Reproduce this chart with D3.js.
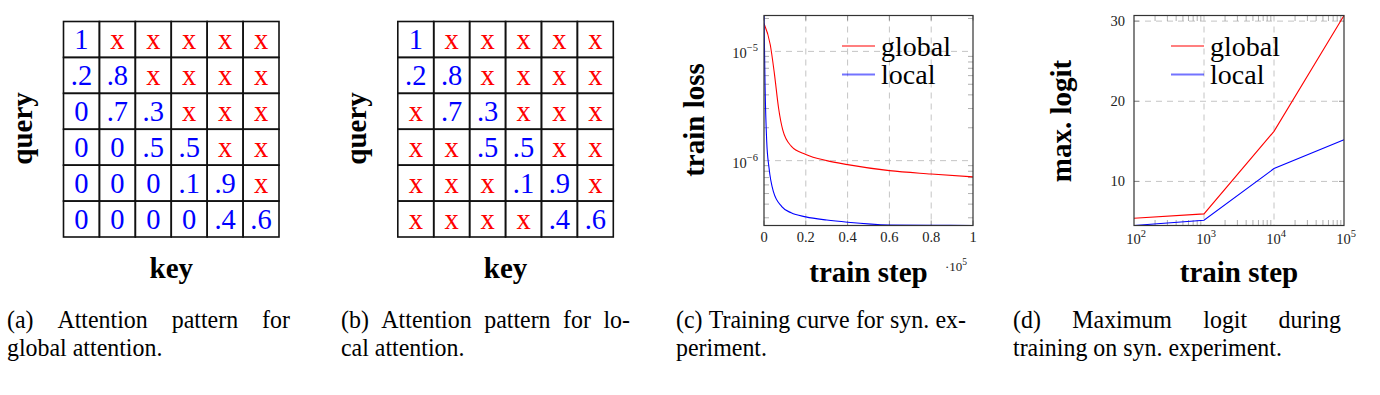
<!DOCTYPE html>
<html lang="en">
<head>
<meta charset="UTF-8">
<title>attention figure</title>
<script src="https://cdnjs.cloudflare.com/ajax/libs/d3/7.8.5/d3.min.js"></script>
<style>
    body { margin: 0; background: #fff; }
    svg { display: block; }
    text { font-family: "Liberation Serif", "Times New Roman", serif; fill: #000; }
    .label { font-size: 29px; font-weight: bold; }
    .cell { font-size: 28.5px; }
    .tick { font-size: 14.5px; fill: #222; }
    .legend { font-size: 28px; }
    .caption { font-size: 26px; }
</style>
</head>
<body>
<svg width="1380" height="395"></svg>
<script>
    // attention patterns, row = query, column = key
    var globalPattern = [
        ['1', 'x', 'x', 'x', 'x', 'x'],
        ['.2', '.8', 'x', 'x', 'x', 'x'],
        ['0', '.7', '.3', 'x', 'x', 'x'],
        ['0', '0', '.5', '.5', 'x', 'x'],
        ['0', '0', '0', '.1', '.9', 'x'],
        ['0', '0', '0', '0', '.4', '.6']
    ];
    var localPattern = [
        ['1', 'x', 'x', 'x', 'x', 'x'],
        ['.2', '.8', 'x', 'x', 'x', 'x'],
        ['x', '.7', '.3', 'x', 'x', 'x'],
        ['x', 'x', '.5', '.5', 'x', 'x'],
        ['x', 'x', 'x', '.1', '.9', 'x'],
        ['x', 'x', 'x', 'x', '.4', '.6']
    ];

    // (c) training loss
    var lossGlobalSteps = [0, 3000, 5000, 7000, 9000, 13000, 20000, 30000, 40000, 60000, 80000, 100000];
    var lossGlobal = [1.8e-5, 1.15e-5, 6.2e-6, 3.0e-6, 1.9e-6, 1.36e-6, 1.14e-6, 1.0e-6, 9.2e-7, 8.1e-7, 7.55e-7, 7.1e-7];
    var lossLocalSteps = [0, 500, 1300, 2400, 4500, 8500, 13000, 20000, 30000, 40000, 60000, 80000, 100000];
    var lossLocal = [2.13e-5, 4.9e-6, 1.5e-6, 8.6e-7, 5.2e-7, 3.8e-7, 3.33e-7, 3.06e-7, 2.86e-7, 2.73e-7, 2.58e-7, 2.56e-7, 2.55e-7];
    var lossXTicks = [0, 20000, 40000, 60000, 80000, 100000];
    var lossXLabels = ['0', '0.2', '0.4', '0.6', '0.8', '1'];
    var lossYTicks = [1e-5, 1e-6];
    var lossYExp = ['\u22125', '\u22126'];

    // (d) max logit
    var logitSteps = [100, 1000, 10000, 100000];
    var logitGlobal = [5.4, 5.95, 16.25, 30.7];
    var logitLocal = [4.5, 5.15, 11.6, 15.2];
    var logitXTicks = [100, 1000, 10000, 100000];
    var logitXExp = ['2', '3', '4', '5'];
    var logitYTicks = [10, 20, 30];

    var seriesNames = ['global', 'local'];
    var captions = [
        ['(a) Attention pattern for', 'global attention.'],
        ['(b) Attention pattern for lo-', 'cal attention.'],
        ['(c) Training curve for syn. ex-', 'periment.'],
        ['(d) Maximum logit during', 'training on syn. experiment.']
    ];

    var svg = d3.select('svg');
    var RED = '#ff0000', BLUE = '#0000ff';

    function drawPattern(x0, y0, data, queryX) {
        var g = svg.append('g');
        var band = d3.scaleBand().domain(d3.range(6)).range([0, 215.5]);
        var rows = g.selectAll('g.row').data(data).enter().append('g')
            .attr('transform', function (d, i) { return 'translate(' + x0 + ',' + (y0 + band(i)) + ')'; });
        rows.selectAll('rect').data(function (d) { return d; }).enter().append('rect')
            .attr('x', function (d, j) { return band(j); })
            .attr('width', band.bandwidth())
            .attr('height', band.bandwidth())
            .attr('fill', 'none')
            .attr('stroke', '#111')
            .attr('stroke-width', 1.6);
        rows.selectAll('text').data(function (d) { return d; }).enter().append('text')
            .attr('class', 'cell')
            .attr('x', function (d, j) { return band(j) + band.bandwidth() / 2; })
            .attr('y', 27.8)
            .attr('text-anchor', 'middle')
            .style('fill', function (d) { return d === 'x' ? RED : BLUE; })
            .text(function (d) { return d; });
        g.append('text').attr('class', 'label')
            .attr('text-anchor', 'middle')
            .attr('transform', 'translate(' + queryX + ',128.5) rotate(-90)')
            .text('query');
        g.append('text').attr('class', 'label')
            .attr('text-anchor', 'middle')
            .attr('x', x0 + 107.75).attr('y', 278)
            .text('key');
    }

    drawPattern(63.5, 21.5, globalPattern, 32);
    drawPattern(397.8, 21.5, localPattern, 366);

    function dashedGrid(g, lines) {
        g.selectAll(null).data(lines).enter().append('line')
            .attr('x1', function (d) { return d[0]; }).attr('y1', function (d) { return d[1]; })
            .attr('x2', function (d) { return d[2]; }).attr('y2', function (d) { return d[3]; })
            .attr('stroke', '#c4c4c4').attr('stroke-width', 1)
            .attr('stroke-dasharray', '6,5');
    }

    function legend(g, x, y) {
        var colors = [RED, BLUE];
        seriesNames.forEach(function (name, i) {
            var by = y + i * 28.5;
            g.append('line')
                .attr('x1', x).attr('x2', x + 33)
                .attr('y1', by - 9.5).attr('y2', by - 9.5)
                .attr('stroke', colors[i])
                .attr('stroke-width', i === 0 ? 1.1 : 1.8)
                .attr('stroke-opacity', i === 0 ? 1 : 0.55);
            g.append('text').attr('class', 'legend')
                .attr('x', x + 39).attr('y', by)
                .text(name);
        });
    }

    // ---------- (c) training curve ----------
    (function () {
        var g = svg.append('g');
        var x = d3.scaleLinear().domain([0, 100000]).range([764, 973]);
        var y = d3.scaleLog().domain([2.55e-7, 2.13e-5]).range([225.5, 15.5]);

        var grid = lossXTicks.slice(1, -1).map(function (v) { return [x(v), 15.5, x(v), 225.5]; })
            .concat(lossYTicks.map(function (v) { return [764, y(v), 973, y(v)]; }));
        dashedGrid(g, grid);

        var minor = y.ticks().filter(function (v) {
            var l = Math.log10(v);
            return Math.abs(l - Math.round(l)) > 1e-6 && v >= y.domain()[0] && v <= y.domain()[1];
        });
        g.selectAll(null).data(minor).enter().append('path')
            .attr('d', function (v) { return 'M764,' + y(v) + 'h5M973,' + y(v) + 'h-5'; })
            .attr('stroke', '#9a9a9a').attr('stroke-width', 0.8);
        g.selectAll(null).data(lossXTicks).enter().append('path')
            .attr('d', function (v) { return 'M' + x(v) + ',225.5v-5M' + x(v) + ',15.5v5'; })
            .attr('stroke', '#777').attr('stroke-width', 0.8);

        g.append('defs').append('clipPath').attr('id', 'clipc')
            .append('rect').attr('x', 764).attr('y', 15.5).attr('width', 209).attr('height', 210);
        var line = d3.line().curve(d3.curveMonotoneX)
            .x(function (d) { return x(d[0]); })
            .y(function (d) { return y(d[1]); });
        g.append('path').attr('clip-path', 'url(#clipc)')
            .datum(d3.zip(lossGlobalSteps, lossGlobal))
            .attr('d', line).attr('fill', 'none').attr('stroke', RED).attr('stroke-width', 1.1);
        g.append('path').attr('clip-path', 'url(#clipc)')
            .datum(d3.zip(lossLocalSteps, lossLocal))
            .attr('d', line).attr('fill', 'none').attr('stroke', BLUE).attr('stroke-width', 1.1);

        g.append('rect').attr('x', 764).attr('y', 15.5).attr('width', 209).attr('height', 210)
            .attr('fill', 'none').attr('stroke', '#333').attr('stroke-width', 1.2);

        g.selectAll(null).data(lossXTicks).enter().append('text')
            .attr('class', 'tick').attr('text-anchor', 'middle')
            .attr('x', function (v) { return x(v); }).attr('y', 242)
            .text(function (v, i) { return lossXLabels[i]; });
        var yl = g.selectAll(null).data(lossYTicks).enter().append('text')
            .attr('class', 'tick').attr('text-anchor', 'end')
            .attr('x', 758).attr('y', function (v) { return y(v) + 7; });
        yl.append('tspan').text('10');
        yl.append('tspan').attr('dy', -7).style('font-size', '10.5px')
            .text(function (v, i) { return lossYExp[i]; });

        var sc = g.append('text').attr('class', 'tick').attr('x', 945).attr('y', 271).style('font-size', '13px');
        sc.append('tspan').text('\u00b710');
        sc.append('tspan').attr('dy', -6).style('font-size', '9.5px').text('5');

        g.append('text').attr('class', 'label').attr('text-anchor', 'middle')
            .attr('transform', 'translate(704,120) rotate(-90)').text('train loss');
        g.append('text').attr('class', 'label').attr('text-anchor', 'middle')
            .attr('x', 868.5).attr('y', 282).text('train step');

        legend(g, 842, 55.5);
    })();

    // ---------- (d) max logit ----------
    (function () {
        var g = svg.append('g');
        var x = d3.scaleLog().domain([100, 100000]).range([1134, 1344]);
        var y = d3.scaleLinear().domain([4.5, 30.7]).range([225.5, 15.5]);

        var grid = logitXTicks.slice(1, -1).map(function (v) { return [x(v), 15.5, x(v), 225.5]; })
            .concat(logitYTicks.map(function (v) { return [1134, y(v), 1344, y(v)]; }));
        dashedGrid(g, grid);

        var minor = x.ticks().filter(function (v) {
            var l = Math.log10(v);
            return Math.abs(l - Math.round(l)) > 1e-6;
        });
        g.selectAll(null).data(minor).enter().append('path')
            .attr('d', function (v) { return 'M' + x(v) + ',225.5v-5.5M' + x(v) + ',15.5v5.5'; })
            .attr('stroke', '#9a9a9a').attr('stroke-width', 0.8);
        g.selectAll(null).data(logitYTicks).enter().append('path')
            .attr('d', function (v) { return 'M1134,' + y(v) + 'h5M1344,' + y(v) + 'h-5'; })
            .attr('stroke', '#777').attr('stroke-width', 0.8);

        var line = d3.line()
            .x(function (d) { return x(d[0]); })
            .y(function (d) { return y(d[1]); });
        g.append('path').datum(d3.zip(logitSteps, logitGlobal))
            .attr('d', line).attr('fill', 'none').attr('stroke', RED).attr('stroke-width', 1.1);
        g.append('path').datum(d3.zip(logitSteps, logitLocal))
            .attr('d', line).attr('fill', 'none').attr('stroke', BLUE).attr('stroke-width', 1.1);

        g.append('rect').attr('x', 1134).attr('y', 15.5).attr('width', 210).attr('height', 210)
            .attr('fill', 'none').attr('stroke', '#333').attr('stroke-width', 1.2);

        var xl = g.selectAll(null).data(logitXTicks).enter().append('text')
            .attr('class', 'tick').attr('text-anchor', 'middle')
            .attr('x', function (v) { return x(v) + 2; }).attr('y', 244);
        xl.append('tspan').text('10');
        xl.append('tspan').attr('dy', -7).style('font-size', '10.5px')
            .text(function (v, i) { return logitXExp[i]; });
        g.selectAll(null).data(logitYTicks).enter().append('text')
            .attr('class', 'tick').attr('text-anchor', 'end')
            .attr('x', 1125).attr('y', function (v) { return y(v) + 5; })
            .text(function (v) { return v; });

        g.append('text').attr('class', 'label').attr('text-anchor', 'middle')
            .attr('transform', 'translate(1071,121) rotate(-90)').text('max. logit');
        g.append('text').attr('class', 'label').attr('text-anchor', 'middle')
            .attr('x', 1239).attr('y', 282).text('train step');

        legend(g, 1171, 55.5);
    })();

    // ---------- captions ----------
    var capSX = 0.92;
    var columns = [[7, 283], [341, 289], [676, 290], [1013, 328]];
    var measure = svg.append('text').attr('class', 'caption').style('visibility', 'hidden');

    function captionLine(str, x, y, width, justify) {
        var t = svg.append('text').attr('class', 'caption')
            .attr('transform', 'translate(' + x + ',' + y + ') scale(' + capSX + ',1)');
        if (!justify) {
            t.text(str);
            return;
        }
        var words = str.split(' ');
        var widths = words.map(function (w) {
            measure.text(w);
            return measure.node().getComputedTextLength();
        });
        var gap = (width / capSX - d3.sum(widths)) / (words.length - 1);
        var cx = 0;
        words.forEach(function (w, i) {
            t.append('tspan').attr('x', cx).text(w);
            cx += widths[i] + gap;
        });
    }

    captions.forEach(function (lines, i) {
        captionLine(lines[0], columns[i][0], 328, columns[i][1], true);
        captionLine(lines[1], columns[i][0], 356, columns[i][1], false);
    });
    measure.remove();
</script>
</body>
</html>
